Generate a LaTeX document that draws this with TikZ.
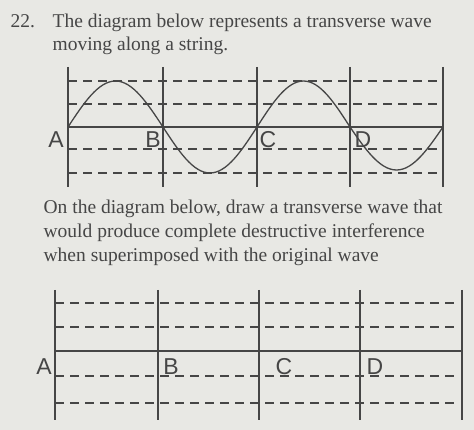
\documentclass[tikz,border=0pt]{standalone}
\usepackage{fontspec}
\setmainfont{Liberation Serif}
\newfontfamily\labelfont{Liberation Sans}
\definecolor{paper}{RGB}{232,232,228}
\definecolor{ink}{RGB}{70,70,70}

\begin{document}
\begin{tikzpicture}[x=1pt, y=-1pt, line width=1.3pt, draw=ink,
    guide/.style={dash pattern=on 9pt off 6pt},
    ptlabel/.style={font=\labelfont\fontsize{23}{23}\selectfont, text=ink, inner sep=0pt},
    question/.style={font=\fontsize{19.5}{19.5}\selectfont, text=ink, anchor=base west, inner sep=0pt}]
\fill[paper] (0,0) rectangle (474,430);
\useasboundingbox (0,0) rectangle (474,430);

% question text
\node[question] (num) at (10,28) {22.};
\node[question] (q1a) at (52,28) {The diagram below represents a transverse wave};
\node[question] (q1b) at (52,51) {moving along a string.};
\node[question] (q2a) at (43,214) {On the diagram below, draw a transverse wave that};
\node[question] (q2b) at (43,238) {would produce complete destructive interference};
\node[question] (q2c) at (43,262) {when superimposed with the original wave};

% first grid with the wave
\foreach \x in {68,163,257,350,443}
    \draw (\x,67) -- (\x,187);
\foreach \y in {81,104,149,173}
    \draw[guide] (68,\y) -- (438,\y);
\draw (68,127) -- (443,127);
\draw (68,127) sin (115.5,81) cos (163,127) sin (210,173) cos (257,127)
    sin (303.5,81) cos (350,127) sin (396.5,170) cos (443,127);
\node[ptlabel] (A1) at (56,140) {A};
\node[ptlabel] (B1) at (153,140) {B};
\node[ptlabel] (C1) at (268,140) {C};
\node[ptlabel] (D1) at (363,140) {D};

% second grid, empty
\foreach \x in {55,158,259,360,462}
    \draw (\x,290) -- (\x,420);
\foreach \y in {303,327,376,403}
    \draw[guide] (55,\y) -- (456,\y);
\draw (55,351) -- (462,351);
\node[ptlabel] (A2) at (44,367) {A};
\node[ptlabel] (B2) at (171,367) {B};
\node[ptlabel] (C2) at (284,367) {C};
\node[ptlabel] (D2) at (375,367) {D};
\end{tikzpicture}
\end{document}
